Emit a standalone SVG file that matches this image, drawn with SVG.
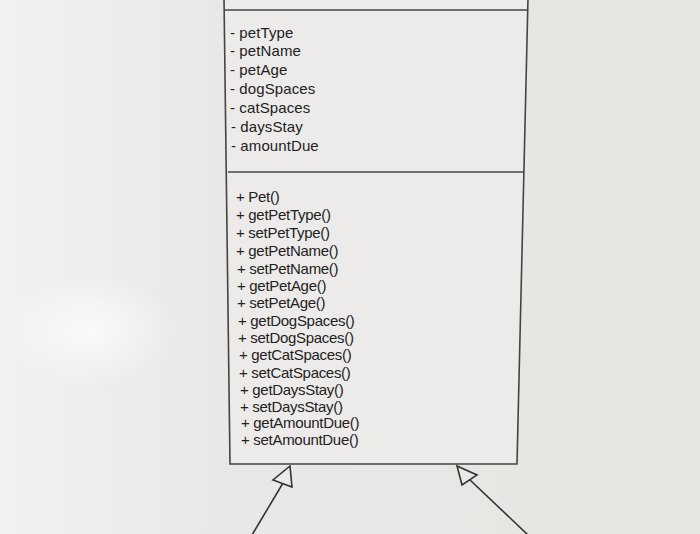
<svg xmlns="http://www.w3.org/2000/svg" width="700" height="534" viewBox="0 0 700 534">
<defs>
<linearGradient id="bg" x1="0" y1="0" x2="1" y2="0">
<stop offset="0" stop-color="#f1f1f0"/>
<stop offset="0.3" stop-color="#e9e8e6"/>
<stop offset="1" stop-color="#e6e5e2"/>
</linearGradient>
<radialGradient id="glow" cx="0.5" cy="0.5" r="0.5">
<stop offset="0" stop-color="#ffffff" stop-opacity="0.7"/>
<stop offset="1" stop-color="#ffffff" stop-opacity="0"/>
</radialGradient>
<style>
.t{font-family:"Liberation Sans",Arial,sans-serif;font-size:15px;fill:#222;letter-spacing:-0.3px}
.a{letter-spacing:0.1px}
.edge{fill:none;stroke:#333;stroke-width:1.6}
.head{fill:#ebeae8;stroke:#333;stroke-width:1.6;stroke-linejoin:miter}
.box{fill:#ecebe9;stroke:#444;stroke-width:1.6}
</style>
</defs>
<rect width="700" height="534" fill="url(#bg)"/>
<ellipse cx="90" cy="330" rx="90" ry="60" fill="url(#glow)"/>
<g id="Pet">
<path class="box" d="M224,-2 L528,-2 L517,464 L230,464 Z"/>
<line x1="224.2" y1="10" x2="527.7" y2="10" stroke="#444" stroke-width="1.6"/>
<line x1="228" y1="172" x2="524" y2="172" stroke="#444" stroke-width="1.6"/>
<g class="t">
<text class="a" x="230" y="38">- petType</text>
<text class="a" x="230" y="56">- petName</text>
<text class="a" x="230" y="75">- petAge</text>
<text class="a" x="230" y="94">- dogSpaces</text>
<text class="a" x="230" y="113">- catSpaces</text>
<text class="a" x="231" y="132">- daysStay</text>
<text class="a" x="231" y="151">- amountDue</text>
<text x="236" y="202">+ Pet()</text>
<text x="236" y="220">+ getPetType()</text>
<text x="236" y="238">+ setPetType()</text>
<text x="236" y="256">+ getPetName()</text>
<text x="237" y="274">+ setPetName()</text>
<text x="237" y="291">+ getPetAge()</text>
<text x="237" y="308">+ setPetAge()</text>
<text x="238" y="326">+ getDogSpaces()</text>
<text x="238" y="343">+ setDogSpaces()</text>
<text x="239" y="360">+ getCatSpaces()</text>
<text x="239" y="378">+ setCatSpaces()</text>
<text x="240" y="395">+ getDaysStay()</text>
<text x="240" y="412">+ setDaysStay()</text>
<text x="241" y="428">+ getAmountDue()</text>
<text x="241" y="445">+ setAmountDue()</text>
</g>
</g>
<g id="connectors">
<line class="edge" x1="283" y1="483" x2="252" y2="535"/>
<polygon class="head" points="290,466 273,480 292,487"/>
<line class="edge" x1="469" y1="479" x2="528" y2="535"/>
<polygon class="head" points="457,466 477,475 462,485"/>
</g>
</svg>
